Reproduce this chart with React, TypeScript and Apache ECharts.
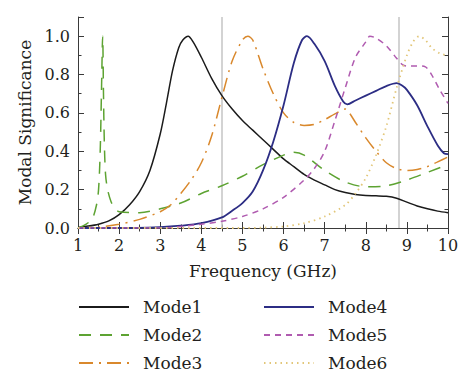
import React, { useEffect, useRef } from "react";
import * as echarts from "echarts";

const modeNames = ["Mode1", "Mode2", "Mode3", "Mode4", "Mode5", "Mode6"];
const markerFreqs = [4.5, 8.8];

const mode1X = [1.0, 1.25, 1.5, 1.75, 2.0, 2.25, 2.5, 2.75, 3.0, 3.15, 3.3, 3.45, 3.55, 3.68, 3.8, 4.0, 4.25, 4.5, 4.75, 5.0, 5.25, 5.5, 5.75, 6.0, 6.25, 6.5, 6.75, 7.0, 7.25, 7.5, 7.75, 8.0, 8.25, 8.5, 8.75, 9.0, 9.25, 9.5, 9.75, 10.0];
const mode1Y = [0.003, 0.01, 0.02, 0.037, 0.07, 0.12, 0.19, 0.3, 0.49, 0.65, 0.82, 0.94, 0.98, 1.0, 0.97, 0.89, 0.78, 0.69, 0.62, 0.56, 0.51, 0.46, 0.41, 0.36, 0.32, 0.28, 0.25, 0.225, 0.2, 0.185, 0.175, 0.17, 0.168, 0.165, 0.155, 0.135, 0.115, 0.1, 0.088, 0.08];

const mode2X = [1.0, 1.2, 1.35, 1.45, 1.5, 1.54, 1.57, 1.6, 1.62, 1.64, 1.67, 1.72, 1.8, 1.9, 2.0, 2.5, 3.0, 3.5, 4.0, 4.5, 5.0, 5.5, 6.0, 6.25, 6.5, 7.0, 7.5, 8.0, 8.5, 9.0, 9.5, 10.0];
const mode2Y = [0.0, 0.02, 0.05, 0.12, 0.2, 0.4, 0.7, 1.0, 0.7, 0.45, 0.28, 0.2, 0.14, 0.1, 0.085, 0.08, 0.1, 0.13, 0.18, 0.22, 0.27, 0.33, 0.38, 0.395, 0.38, 0.3, 0.24, 0.215, 0.22, 0.25, 0.29, 0.33];

const mode3X = [1.0, 1.5, 2.0, 2.5, 3.0, 3.25, 3.5, 3.75, 4.0, 4.25, 4.5, 4.75, 5.0, 5.13, 5.25, 5.5, 5.75, 6.0, 6.25, 6.5, 6.75, 7.0, 7.25, 7.5, 7.6, 7.75, 8.0, 8.25, 8.5, 8.75, 9.0, 9.25, 9.5, 9.75, 10.0];
const mode3Y = [0.0, 0.005, 0.02, 0.045, 0.085, 0.12, 0.18, 0.25, 0.34, 0.48, 0.68, 0.87, 0.98, 1.0, 0.98, 0.83, 0.7, 0.6, 0.55, 0.535, 0.54, 0.565, 0.595, 0.62, 0.6, 0.55, 0.47, 0.4, 0.34, 0.31, 0.3, 0.305, 0.32, 0.345, 0.37];

const mode4X = [1.0, 2.0, 3.0, 3.5, 4.0, 4.5, 4.75, 5.0, 5.25, 5.5, 5.75, 6.0, 6.25, 6.45, 6.57, 6.75, 7.0, 7.25, 7.45, 7.55, 7.75, 8.0, 8.25, 8.5, 8.75, 8.9, 9.0, 9.25, 9.5, 9.75, 9.9, 10.0];
const mode4Y = [0.0, 0.0, 0.005, 0.012, 0.025, 0.055, 0.09, 0.13, 0.19, 0.3, 0.45, 0.64, 0.86, 0.98, 1.0, 0.96, 0.87, 0.74, 0.66, 0.645, 0.665, 0.69, 0.715, 0.74, 0.755, 0.74, 0.72, 0.64, 0.53, 0.43, 0.39, 0.385];

const mode5X = [1.0, 3.0, 4.0, 4.5, 5.0, 5.5, 6.0, 6.5, 6.75, 7.0, 7.25, 7.5, 7.75, 8.0, 8.1, 8.25, 8.5, 8.75, 8.9, 9.0, 9.25, 9.45, 9.6, 9.8, 10.0];
const mode5Y = [0.0, 0.0, 0.02, 0.035, 0.06, 0.1, 0.16, 0.25, 0.31, 0.4, 0.56, 0.73, 0.89, 0.97, 1.0, 0.99, 0.95, 0.885, 0.85, 0.845, 0.845, 0.84, 0.8, 0.72, 0.65];

const mode6X = [1.0, 5.0, 5.5, 6.0, 6.5, 7.0, 7.5, 7.75, 8.0, 8.25, 8.5, 8.75, 9.0, 9.15, 9.3, 9.45, 9.6, 9.8, 10.0];
const mode6Y = [0.0, 0.0, 0.002, 0.008, 0.025, 0.06, 0.12, 0.18, 0.26, 0.38, 0.53, 0.73, 0.9, 0.97, 1.0, 0.98, 0.94, 0.91, 0.9];

const xTicks = [1, 2, 3, 4, 5, 6, 7, 8, 9, 10];

const modeXs = [mode1X, mode2X, mode3X, mode4X, mode5X, mode6X];
const modeYs = [mode1Y, mode2Y, mode3Y, mode4Y, mode5Y, mode6Y];

const colors = ["#1b1b1b", "#5da332", "#d9882c", "#2c2d84", "#b05bb0", "#e2c678"];
const dashes: any[] = ["solid", [12, 9], [14, 6, 2, 6], "solid", [6, 5], [1.5, 4]];
const widths = [1.5, 1.5, 1.5, 1.8, 1.5, 1.8];

const FONT = "DejaVu Serif";
const TXT = "#231f20";

export default function App() {
  const ref = useRef<HTMLDivElement>(null);
  useEffect(() => {
    if (!ref.current) return;
    const chart = echarts.init(ref.current, undefined, { renderer: "svg" });
    const series: any[] = modeNames.map((name, i) => {
      const s: any = {
        name,
        type: "line",
        data: modeXs[i].map((x, j) => [x, modeYs[i][j]]),
        showSymbol: false,
        symbol: "none",
        smooth: 0.3,
        lineStyle: { color: colors[i], width: widths[i], type: dashes[i] },
        itemStyle: { color: colors[i] },
        z: 3,
      };
      if (i === 0) {
        s.markLine = {
          silent: true,
          symbol: "none",
          label: { show: false },
          lineStyle: { color: "#c4c4c4", width: 1.5, type: "solid" },
          data: markerFreqs.map((f) => ({ xAxis: f })),
          z: 1,
        };
      }
      return s;
    });
    const axisCommon = {
      axisLine: { show: true, lineStyle: { color: "#3a3a3a", width: 1 } },
      axisTick: { show: true, inside: true, length: 6, lineStyle: { color: "#3a3a3a" } },
      minorTick: { show: true, splitNumber: 2, length: 3.5, lineStyle: { color: "#3a3a3a" } },
      splitLine: { show: false },
    };
    const legendCommon = {
      orient: "vertical",
      top: 297,
      itemWidth: 50,
      itemHeight: 14,
      itemGap: 8,
      padding: 0,
      selectedMode: false,
      itemStyle: { opacity: 0 },
      textStyle: { fontFamily: FONT, fontSize: 17, color: TXT, padding: [0, 0, 0, 9], lineHeight: 20 },
    };
    chart.setOption({
      animation: false,
      textStyle: { fontFamily: FONT },
      grid: { left: 78, right: 26, top: 17, bottom: 159 },
      xAxis: [
        {
          type: "value",
          min: 1,
          max: 10,
          interval: 1,
          position: "bottom",
          name: "Frequency (GHz)",
          nameLocation: "middle",
          nameGap: 34,
          nameTextStyle: { fontFamily: FONT, fontSize: 17, color: TXT },
          axisLabel: {
            fontFamily: FONT,
            fontSize: 16,
            color: TXT,
            margin: 9,
            formatter: (v: number) => (xTicks.includes(v) ? String(v) : ""),
          },
          ...axisCommon,
        },
        {
          type: "value",
          min: 1,
          max: 10,
          interval: 1,
          position: "top",
          axisLabel: { show: false },
          ...axisCommon,
        },
      ],
      yAxis: [
        {
          type: "value",
          min: 0,
          max: 1.1,
          interval: 0.2,
          position: "left",
          name: "Modal Significance",
          nameLocation: "middle",
          nameGap: 43,
          nameTextStyle: { fontFamily: FONT, fontSize: 17, color: TXT },
          axisLabel: {
            fontFamily: FONT,
            fontSize: 16,
            color: TXT,
            margin: 8,
            showMaxLabel: false,
            formatter: (v: number) => (v > 1.05 ? "" : v.toFixed(1)),
          },
          ...axisCommon,
        },
        {
          type: "value",
          min: 0,
          max: 1.1,
          interval: 0.2,
          position: "right",
          axisLabel: { show: false },
          ...axisCommon,
        },
      ],
      legend: [
        { ...legendCommon, left: 78, data: modeNames.slice(0, 3) },
        { ...legendCommon, left: 263, data: modeNames.slice(3, 6) },
      ],
      series,
    });
    return () => chart.dispose();
  }, []);
  return <div ref={ref} style={{ width: 474, height: 387, position: "absolute", left: 0, top: 0, background: "#fff" }} />;
}
